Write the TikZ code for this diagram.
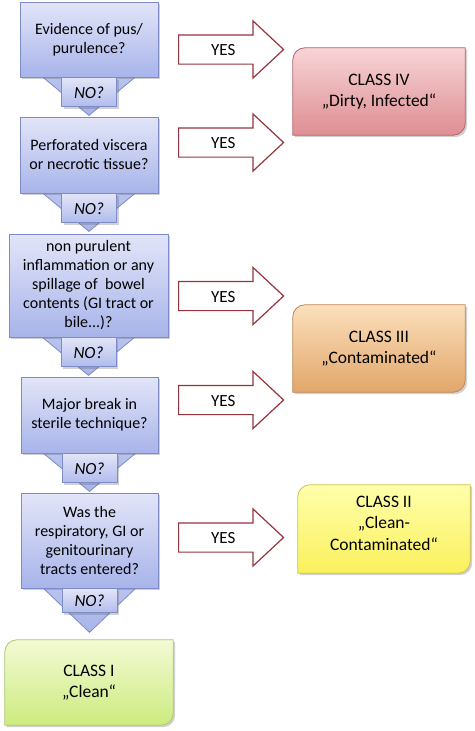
\documentclass[tikz,border=0pt]{standalone}
\usepackage{fontspec}
\setmainfont{Carlito}
\usetikzlibrary{positioning, shapes.arrows, shadows, backgrounds, calc}

\definecolor{qtop}{RGB}{226,229,248}
\definecolor{qbot}{RGB}{168,180,234}
\definecolor{qline}{RGB}{125,140,198}
\definecolor{yesred}{RGB}{150,52,62}
\definecolor{ivtop}{RGB}{247,212,214}
\definecolor{ivbot}{RGB}{222,142,147}
\definecolor{ivline}{RGB}{180,100,105}
\definecolor{iiitop}{RGB}{251,224,188}
\definecolor{iiibot}{RGB}{226,166,106}
\definecolor{iiiline}{RGB}{190,135,80}
\definecolor{iitop}{RGB}{255,255,172}
\definecolor{iibot}{RGB}{250,240,92}
\definecolor{iiline}{RGB}{205,195,70}
\definecolor{itop}{RGB}{243,250,212}
\definecolor{ibot}{RGB}{205,235,127}
\definecolor{iline}{RGB}{170,200,110}

\tikzset{
    softshadow/.style={
        drop shadow={shadow xshift=2pt, shadow yshift=-2pt, opacity=0.3, fill=black!60}
    },
    question/.style={
        draw=qline,
        line width=0.8pt,
        top color=qtop,
        bottom color=qbot,
        align=center,
        inner sep=0pt,
        font=\fontsize{16}{19}\selectfont,
        softshadow
    },
    nobox/.style={
        draw=qline,
        line width=0.8pt,
        top color=qtop,
        bottom color=qbot!85!qtop,
        minimum width=55pt,
        inner sep=0pt,
        font=\fontsize{17}{20}\selectfont\itshape,
        softshadow
    },
    yesarrow/.style={
        single arrow,
        draw=yesred,
        line width=1.2pt,
        fill=white,
        anchor=tail,
        minimum height=105pt,
        single arrow head extend=14pt,
        single arrow head indent=0pt,
        single arrow tip angle=86,
        text height=12pt,
        text depth=0pt,
        inner ysep=8pt,
        font=\fontsize{17}{20}\selectfont
    },
    classbox/.style={
        align=center,
        inner sep=0pt,
        font=\fontsize{17.5}{21.5}\selectfont
    }
}

\begin{document}
\begin{tikzpicture}[x=1pt, y=1pt]

\useasboundingbox (0,0) rectangle (474,-731);

% questions
\node[question, minimum width=138pt, minimum height=75pt] (q1) at (89,-39.5)
{Evidence of pus/\\purulence?};
\node[question, minimum width=138pt, minimum height=76pt] (q2) at (89,-155)
{Perforated viscera\\or necrotic tissue?};
\node[question, minimum width=159pt, minimum height=103pt] (q3) at (88.5,-285.5)
{non purulent\\inflammation or any\\spillage of~ bowel\\contents (GI tract or\\bile...)?};
\node[question, minimum width=137pt, minimum height=76pt] (q4) at (89.5,-415)
{Major break in\\sterile technique?};
\node[question, minimum width=137pt, minimum height=95pt] (q5) at (89.5,-540.5)
{Was the\\respiratory, GI or\\genitourinary\\tracts entered?};

% NO? callouts
\node[nobox, minimum height=29pt, below=0pt of q1] (no1) {NO?};
\node[nobox, minimum height=29pt, below=0pt of q2] (no2) {NO?};
\node[nobox, minimum height=29pt, below=0pt of q3] (no3) {NO?};
\node[nobox, minimum height=29pt, below=0pt of q4] (no4) {NO?};
\node[nobox, minimum height=24pt, below=0pt of q5] (no5) {NO?};

\begin{scope}[on background layer]
\foreach \n/\h in {no1/38, no2/38, no3/38, no4/38, no5/44}
    \path[draw=qline, line width=0.8pt, top color=qbot!70!qtop, bottom color=qbot]
        ($(\n.north)+(-46,0)$) -- ($(\n.north)+(46,0)$) -- ($(\n.north)+(0,-\h)$) -- cycle;
\end{scope}

% YES arrows
\node[yesarrow] (yes1) at (178,-49.5) {YES};
\node[yesarrow] (yes2) at (178,-142.5) {YES};
\node[yesarrow] (yes3) at (178,-296) {YES};
\node[yesarrow] (yes4) at (178,-400) {YES};
\node[yesarrow] (yes5) at (178,-537.5) {YES};

% classes
\node[classbox, minimum width=172pt, minimum height=87pt] (c4) at (379,-91.5)
{CLASS IV\\„Dirty, Infected“};
\node[classbox, minimum width=172pt, minimum height=87pt] (c3) at (379,-348.5)
{CLASS III\\„Contaminated“};
\node[classbox, minimum width=172pt, minimum height=88pt, text depth=12pt] (c2) at (384,-529)
{CLASS II\\„Clean-\\Contaminated“};
\node[classbox, minimum width=168pt, minimum height=85pt] (c1) at (89,-682.5)
{CLASS I\\„Clean“};

\begin{scope}[on background layer]
\foreach \n/\ct/\cb/\cl in {c4/ivtop/ivbot/ivline, c3/iiitop/iiibot/iiiline, c2/iitop/iibot/iiline, c1/itop/ibot/iline}
    \path[draw=\cl, line width=0.8pt, top color=\ct, bottom color=\cb, softshadow]
        (\n.south west) -- ($(\n.north west)+(0,-12)$)
        arc[start angle=180, end angle=90, radius=12]
        -- (\n.north east) -- ($(\n.south east)+(0,12)$)
        arc[start angle=0, end angle=-90, radius=12] -- cycle;
\end{scope}

\end{tikzpicture}
\end{document}
